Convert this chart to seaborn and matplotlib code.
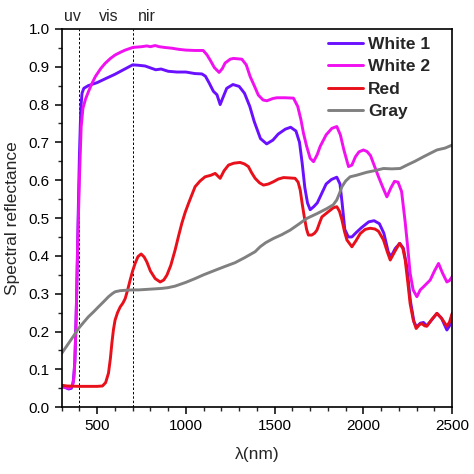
import pandas as pd
import matplotlib.pyplot as plt
import seaborn as sns
from matplotlib.ticker import MultipleLocator

# ──────────────────────────────
# Data
# ──────────────────────────────
white1_x = [300, 320, 340, 355, 365, 375, 385, 393, 400, 408, 415, 425, 450, 500, 545, 600, 640, 680,
            700, 730, 770, 800, 830, 860, 900, 950, 1000, 1050, 1090, 1110, 1130, 1155, 1175, 1193,
            1210, 1230, 1265, 1300, 1330, 1360, 1385, 1420, 1455, 1490, 1520, 1560, 1590, 1620, 1640,
            1655, 1670, 1685, 1700, 1720, 1740, 1760, 1790, 1820, 1850, 1868, 1880, 1895, 1915, 1935,
            1960, 1990, 2030, 2060, 2090, 2115, 2140, 2155, 2180, 2205, 2225, 2245, 2265, 2285, 2300,
            2320, 2338, 2357, 2380, 2414, 2440, 2470, 2485, 2500]
white1_y = [0.055, 0.052, 0.048, 0.050, 0.065, 0.12, 0.30, 0.50, 0.66, 0.79, 0.83, 0.843, 0.850, 0.858,
            0.868, 0.880, 0.890, 0.900, 0.905, 0.904, 0.902, 0.897, 0.892, 0.894, 0.888, 0.886, 0.886,
            0.882, 0.881, 0.875, 0.858, 0.835, 0.826, 0.800, 0.820, 0.843, 0.853, 0.848, 0.830, 0.795,
            0.755, 0.710, 0.696, 0.706, 0.722, 0.735, 0.740, 0.730, 0.700, 0.645, 0.580, 0.540, 0.522,
            0.530, 0.540, 0.560, 0.590, 0.602, 0.608, 0.590, 0.540, 0.470, 0.450, 0.450, 0.462, 0.475,
            0.490, 0.493, 0.485, 0.460, 0.410, 0.398, 0.420, 0.433, 0.420, 0.370, 0.280, 0.225, 0.212,
            0.222, 0.224, 0.215, 0.228, 0.248, 0.235, 0.204, 0.215, 0.245]

white2_x = [300, 340, 360, 370, 380, 390, 400, 410, 420, 435, 451, 470, 490, 520, 545, 575, 601, 630,
            658, 701, 750, 780, 800, 827, 850, 880, 921, 960, 1000, 1050, 1097, 1118, 1140, 1160, 1187,
            1205, 1221, 1250, 1268, 1315, 1340, 1362, 1385, 1408, 1435, 1456, 1490, 1512, 1560, 1606,
            1630, 1648, 1662, 1680, 1700, 1719, 1740, 1756, 1790, 1822, 1850, 1870, 1890, 1916, 1935,
            1955, 1975, 2000, 2020, 2040, 2060, 2085, 2110, 2132, 2155, 2175, 2195, 2215, 2235, 2250,
            2263, 2280, 2301, 2320, 2338, 2376, 2400, 2423, 2445, 2470, 2485, 2500]
white2_y = [0.055, 0.050, 0.055, 0.08, 0.20, 0.42, 0.60, 0.74, 0.79, 0.815, 0.834, 0.855, 0.874, 0.895,
            0.909, 0.922, 0.931, 0.938, 0.944, 0.951, 0.953, 0.955, 0.953, 0.956, 0.953, 0.951, 0.949,
            0.946, 0.944, 0.943, 0.943, 0.932, 0.915, 0.898, 0.885, 0.895, 0.910, 0.920, 0.922, 0.920,
            0.905, 0.874, 0.850, 0.825, 0.812, 0.810, 0.816, 0.818, 0.818, 0.817, 0.795, 0.760, 0.725,
            0.690, 0.658, 0.649, 0.668, 0.689, 0.720, 0.737, 0.742, 0.720, 0.680, 0.636, 0.640, 0.662,
            0.675, 0.680, 0.676, 0.665, 0.640, 0.609, 0.580, 0.556, 0.580, 0.597, 0.595, 0.570, 0.490,
            0.420, 0.354, 0.310, 0.292, 0.310, 0.318, 0.336, 0.360, 0.380, 0.355, 0.331, 0.335, 0.345]

red_x = [300, 330, 400, 450, 500, 530, 548, 564, 575, 583, 592, 601, 615, 630, 645, 658, 672, 686, 700,
         714, 730, 748, 765, 780, 800, 827, 855, 875, 893, 915, 939, 960, 977, 996, 1015, 1035, 1052,
         1080, 1108, 1140, 1165, 1193, 1215, 1240, 1270, 1305, 1330, 1352, 1370, 1390, 1415, 1437,
         1465, 1493, 1520, 1550, 1585, 1615, 1632, 1644, 1656, 1668, 1680, 1690, 1709, 1725, 1738,
         1755, 1766, 1803, 1830, 1850, 1865, 1879, 1893, 1907, 1935, 1958, 1982, 2010, 2038, 2065,
         2085, 2113, 2135, 2151, 2175, 2203, 2222, 2235, 2250, 2263, 2280, 2297, 2315, 2329, 2345,
         2357, 2385, 2414, 2440, 2470, 2485, 2500]
red_y = [0.058, 0.056, 0.055, 0.055, 0.055, 0.056, 0.065, 0.09, 0.13, 0.169, 0.205, 0.230, 0.250, 0.265,
         0.275, 0.287, 0.310, 0.336, 0.360, 0.380, 0.398, 0.405, 0.397, 0.384, 0.360, 0.340, 0.331,
         0.336, 0.349, 0.375, 0.415, 0.455, 0.486, 0.515, 0.539, 0.563, 0.583, 0.598, 0.609, 0.613,
         0.618, 0.605, 0.625, 0.640, 0.645, 0.647, 0.643, 0.636, 0.620, 0.605, 0.593, 0.587, 0.590,
         0.596, 0.603, 0.607, 0.606, 0.605, 0.595, 0.574, 0.535, 0.500, 0.470, 0.455, 0.455, 0.460,
         0.468, 0.490, 0.503, 0.517, 0.527, 0.530, 0.518, 0.495, 0.465, 0.442, 0.424, 0.440, 0.459,
         0.470, 0.473, 0.471, 0.465, 0.442, 0.410, 0.389, 0.410, 0.433, 0.420, 0.390, 0.330, 0.274,
         0.232, 0.208, 0.218, 0.221, 0.215, 0.214, 0.232, 0.248, 0.235, 0.214, 0.225, 0.248]

gray_x = [300, 338, 370, 395, 420, 451, 480, 507, 535, 564, 585, 601, 630, 658, 700, 733, 800, 865, 900,
          939, 1000, 1052, 1100, 1165, 1220, 1277, 1330, 1390, 1418, 1450, 1493, 1540, 1587, 1630, 1681,
          1740, 1794, 1830, 1850, 1865, 1879, 1900, 1925, 1960, 2019, 2060, 2113, 2160, 2207, 2245,
          2290, 2338, 2380, 2414, 2460, 2500]
gray_y = [0.142, 0.168, 0.190, 0.208, 0.222, 0.239, 0.252, 0.265, 0.278, 0.292, 0.300, 0.305, 0.308,
          0.309, 0.310, 0.310, 0.312, 0.314, 0.316, 0.320, 0.330, 0.340, 0.350, 0.362, 0.372, 0.382,
          0.395, 0.411, 0.424, 0.435, 0.446, 0.456, 0.468, 0.482, 0.499, 0.512, 0.525, 0.535, 0.548,
          0.565, 0.583, 0.598, 0.609, 0.613, 0.621, 0.625, 0.631, 0.630, 0.631, 0.640, 0.650, 0.662,
          0.672, 0.680, 0.685, 0.693]

series_names = ["White 1", "White 2", "Red", "Gray"]
series_colors = ["#6a10ff", "#f010f0", "#e8101a", "#808080"]
region_edges = [400, 700]
region_labels = ["uv", "vis", "nir"]
region_label_x = [360, 563, 781]

# ──────────────────────────────
# Long-form table for seaborn
# ──────────────────────────────
frames = []
for name, xs, ys in zip(series_names,
                        [white1_x, white2_x, red_x, gray_x],
                        [white1_y, white2_y, red_y, gray_y]):
    frames.append(pd.DataFrame({"wavelength": xs, "reflectance": ys, "sample": name}))
df = pd.concat(frames, ignore_index=True)

sns.set_theme(style="ticks")
plt.rcParams["font.family"] = ["Liberation Sans", "DejaVu Sans"]

fig = plt.figure(figsize=(4.74, 4.74), dpi=100)
ax = fig.add_axes([0.130, 0.141, 0.824, 0.798])

sns.lineplot(data=df, x="wavelength", y="reflectance", hue="sample",
             hue_order=series_names, palette=dict(zip(series_names, series_colors)),
             estimator=None, sort=False, linewidth=2.1, ax=ax)

for xv in region_edges:
    ax.axvline(xv, color="black", linestyle=(0, (2.5, 2)), linewidth=0.7, zorder=0)
for lbl, xv in zip(region_labels, region_label_x):
    ax.text(xv, 1.012, lbl, transform=ax.get_xaxis_transform(),
            ha="center", va="bottom", fontsize=11.5)

ax.set_xlim(300, 2500)
ax.set_ylim(0, 1.0)
ax.xaxis.set_major_locator(MultipleLocator(500))
ax.xaxis.set_minor_locator(MultipleLocator(100))
ax.yaxis.set_major_locator(MultipleLocator(0.1))
ax.yaxis.set_minor_locator(MultipleLocator(0.05))
ax.yaxis.set_major_formatter(plt.FuncFormatter(lambda v, p: f"{v:.1f}"))
ax.tick_params(which="major", direction="out", length=5, width=1.1, labelsize=11, colors="black")
ax.tick_params(which="minor", direction="out", length=3, width=1.0)
for sp in ax.spines.values():
    sp.set_color("black")
    sp.set_linewidth(1.2)

ax.set_xlabel("λ(nm)", fontsize=12.5, labelpad=10)
ax.set_ylabel("Spectral reflectance", fontsize=12.5, labelpad=6)

ax.legend(loc="upper left", bbox_to_anchor=(0.682, 0.978), frameon=False,
          borderaxespad=0, borderpad=0, handlelength=2.0, handletextpad=0.3,
          labelspacing=0.4, prop={"weight": "bold", "size": 12.5})

plt.savefig("out.png", dpi=100)
plt.close(fig)
